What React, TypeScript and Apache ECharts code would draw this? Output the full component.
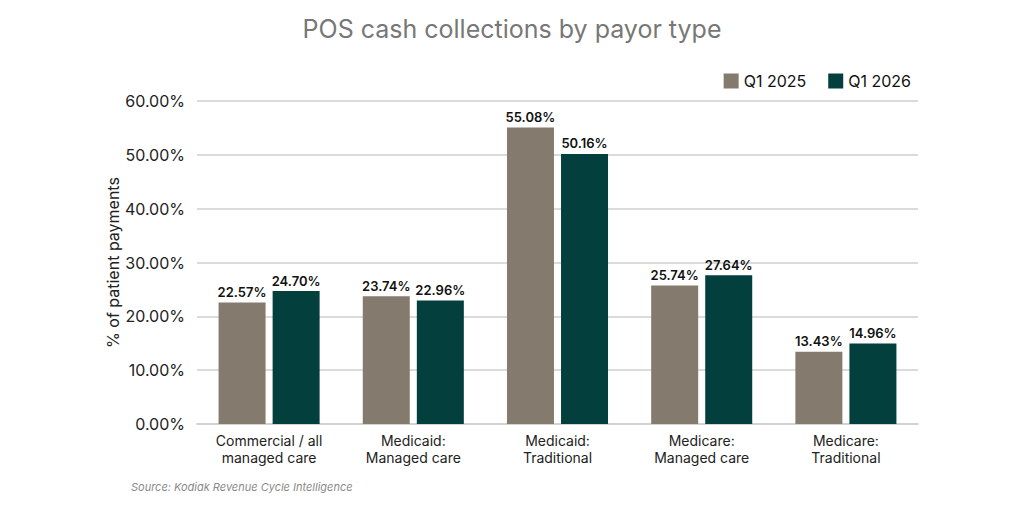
import React, { useEffect, useRef } from "react";
import * as echarts from "echarts";

const categories = [
  "Commercial / all\nmanaged care",
  "Medicaid:\nManaged care",
  "Medicaid:\nTraditional",
  "Medicare:\nManaged care",
  "Medicare:\nTraditional",
];
const q1_2025 = [22.57, 23.74, 55.08, 25.74, 13.43];
const q1_2026 = [24.7, 22.96, 50.16, 27.64, 14.96];
const seriesNames = ["Q1 2025", "Q1 2026"];
const yTicks = { min: 0, max: 60, interval: 10 };

const FONT = "Inter, 'Noto Sans', sans-serif";

export default function App() {
  const ref = useRef<HTMLDivElement>(null);
  useEffect(() => {
    if (!ref.current) return;
    const chart = echarts.init(ref.current, undefined, { renderer: "svg" });
    const labelCfg = {
      show: true,
      position: "top" as const,
      distance: 4,
      formatter: (p: any) => p.value.toFixed(2) + "%",
      color: "#111",
      fontSize: 13,
      fontWeight: 600,
      fontFamily: FONT,
    };
    chart.setOption({
      animation: false,
      backgroundColor: "#fff",
      textStyle: { fontFamily: FONT },
      title: {
        text: "POS cash collections by payor type",
        left: "center",
        top: 11,
        textStyle: { color: "#777777", fontSize: 25, fontWeight: 400, fontFamily: FONT },
      },
      legend: {
        data: seriesNames,
        right: 108,
        top: 68,
        itemWidth: 15,
        itemHeight: 15,
        itemGap: 22,
        icon: "rect",
        textStyle: { color: "#111", fontSize: 16, fontFamily: FONT },
      },
      grid: { left: 197, right: 106, top: 101, bottom: 88, containLabel: false },
      xAxis: {
        type: "category",
        data: categories,
        axisLine: { show: true, lineStyle: { color: "#cfcfcf", width: 1.5 } },
        axisTick: { show: false },
        axisLabel: {
          color: "#222",
          fontSize: 14,
          lineHeight: 17,
          margin: 8,
          fontFamily: FONT,
        },
      },
      yAxis: {
        type: "value",
        min: yTicks.min,
        max: yTicks.max,
        interval: yTicks.interval,
        name: "% of patient payments",
        nameLocation: "middle",
        nameGap: 76,
        nameMoveOverlap: false,
        nameTextStyle: { color: "#222", fontSize: 16, fontFamily: FONT },
        axisLabel: {
          formatter: (v: number) => v.toFixed(2) + "%",
          color: "#222",
          fontSize: 16,
          margin: 12,
          fontFamily: FONT,
        },
        axisLine: { show: false },
        axisTick: { show: false },
        splitLine: { lineStyle: { color: "#cfcfcf", width: 1.5 } },
      },
      series: [
        {
          name: seriesNames[0],
          type: "bar",
          data: q1_2025,
          itemStyle: { color: "#857a6e" },
          barWidth: 47,
          barGap: "15%",
          label: labelCfg,
        },
        {
          name: seriesNames[1],
          type: "bar",
          data: q1_2026,
          itemStyle: { color: "#023f3d" },
          barWidth: 47,
          barGap: "15%",
          label: labelCfg,
        },
      ],
      graphic: [
        {
          type: "text",
          left: 131,
          top: 481,
          style: {
            text: "Source: Kodiak Revenue Cycle Intelligence",
            fill: "#8a8a8a",
            fontSize: 11,
            fontStyle: "italic",
            fontFamily: FONT,
          },
        },
      ],
    });
    return () => chart.dispose();
  }, []);
  return <div ref={ref} style={{ width: 1024, height: 512, margin: -8 }} />;
}
